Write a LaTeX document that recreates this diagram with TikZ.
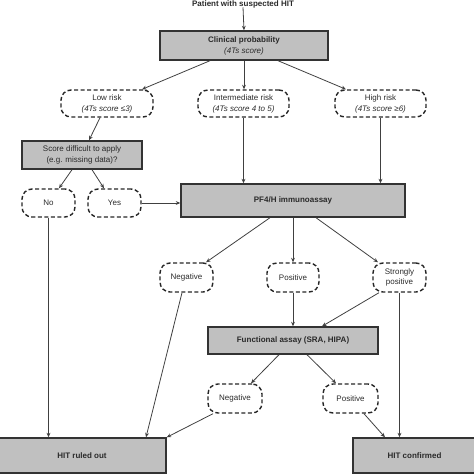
\documentclass[tikz,border=0pt]{standalone}
\usepackage{fontspec}
\setmainfont{Liberation Sans}
\usetikzlibrary{arrows.meta}
\definecolor{boxfill}{HTML}{C0C0C0}
\definecolor{boxline}{HTML}{333333}
\definecolor{txt}{HTML}{2A2A2A}
\definecolor{arrcol}{HTML}{404040}
\tikzset{
  graybox/.style={draw=boxline, fill=boxfill, line width=1.4pt, inner sep=0pt, align=center, text=txt, font=\fontsize{8}{11}\selectfont\bfseries},
  dashbox/.style={draw=black!85, line width=1.4pt, dash pattern=on 4pt off 2.5pt, rounded corners=10pt, inner sep=0pt, align=center, text=txt, font=\fontsize{8}{11}\selectfont},
  arr/.style={draw=arrcol, line width=0.8pt, -{Stealth[length=4.5pt,width=3.8pt]}},
}
\begin{document}
\begin{tikzpicture}[x=1pt,y=-1pt]
\useasboundingbox (0,0) rectangle (474,474);
\node[text=txt, font=\fontsize{8}{10}\selectfont\bfseries] (title) at (243,4) {Patient with suspected HIT};
\node[graybox, minimum width=168pt, minimum height=29pt] (clin) at (244,45.5) {Clinical probability\\{\mdseries\itshape (4Ts score)}};
\node[dashbox, minimum width=92pt, minimum height=27pt] (low) at (107,103.5) {Low risk\\{\itshape (4Ts score ≤3)}};
\node[dashbox, minimum width=91pt, minimum height=27pt] (inter) at (243.5,103.5) {Intermediate risk\\{\itshape (4Ts score 4 to 5)}};
\node[dashbox, minimum width=91pt, minimum height=27pt] (high) at (380.5,103.5) {High risk\\{\itshape (4Ts score ≥6)}};
\node[graybox, minimum width=120pt, minimum height=28pt, font=\fontsize{8}{11}\selectfont] (score) at (82,155) {Score difficult to apply\\(e.g. missing data)?};
\node[dashbox, minimum width=53pt, minimum height=28pt] (no) at (48.5,203) {No};
\node[dashbox, minimum width=53pt, minimum height=28pt] (yes) at (114.5,203) {Yes};
\node[graybox, minimum width=224pt, minimum height=33pt] (pf4) at (293,200.5) {PF4/H immunoassay};
\node[dashbox, minimum width=53pt, minimum height=29pt] (neg) at (186.5,277.5) {Negative};
\node[dashbox, minimum width=52pt, minimum height=29pt] (pos) at (293,277.5) {Positive};
\node[dashbox, minimum width=53pt, minimum height=29pt, font=\fontsize{8}{10}\selectfont] (strong) at (399.5,277.5) {Strongly\\positive};
\node[graybox, minimum width=170pt, minimum height=27pt] (func) at (293,340.5) {Functional assay (SRA, HIPA)};
\node[dashbox, minimum width=54pt, minimum height=29pt] (neg2) at (235,398.5) {Negative};
\node[dashbox, minimum width=55pt, minimum height=29pt] (pos2) at (350.5,398.5) {Positive};
\node[graybox, minimum width=168pt, minimum height=35pt] (ruled) at (82,455.5) {HIT ruled out};
\node[graybox, minimum width=123pt, minimum height=35pt] (conf) at (414.5,455.5) {HIT confirmed};
% connectors
\draw[arr] ([yshift=4pt]title.south) -- (clin.north);
\draw[arr] ([xshift=-34pt]clin.south) -- ([xshift=35pt]low.north);
\draw[arr] (clin.south) -- (clin.south |- inter.north);
\draw[arr] ([xshift=34pt]clin.south) -- ([xshift=-34.5pt]high.north);
\draw[arr] ([xshift=-7pt]low.south) -- ([xshift=7pt]score.north);
\draw[arr] ([xshift=-10pt]score.south) -- ([xshift=10.5pt]no.north);
\draw[arr] ([xshift=10pt]score.south) -- ([xshift=-10.5pt]yes.north);
\draw[arr] (inter.south) -- (inter.south |- pf4.north);
\draw[arr] (high.south) -- (high.south |- pf4.north);
\draw[arr] (yes.east) -- (yes.east -| pf4.west);
\draw[arr] ([xshift=-23pt]pf4.south) -- ([xshift=19.5pt]neg.north);
\draw[arr] (pf4.south) -- (pos.north);
\draw[arr] ([xshift=23pt]pf4.south) -- ([xshift=-21.5pt]strong.north);
\draw[arr] ([xshift=-4.5pt]neg.south) -- ([xshift=64pt]ruled.north);
\draw[arr] (pos.south) -- (func.north);
\draw[arr] ([xshift=-20.5pt]strong.south) -- ([xshift=29pt]func.north);
\draw[arr] (no.south) -- (no.south |- ruled.north);
\draw[arr] (strong.south) -- (strong.south |- conf.north);
\draw[arr] ([xshift=-14pt]func.south) -- ([xshift=16pt]neg2.north);
\draw[arr] ([xshift=14pt]func.south) -- ([xshift=-14.5pt]pos2.north);
\draw[arr] ([xshift=-22pt]neg2.south) -- (ruled.north east);
\draw[arr] ([xshift=13.5pt]pos2.south) -- ([xshift=-29.5pt]conf.north);
\end{tikzpicture}
\end{document}
